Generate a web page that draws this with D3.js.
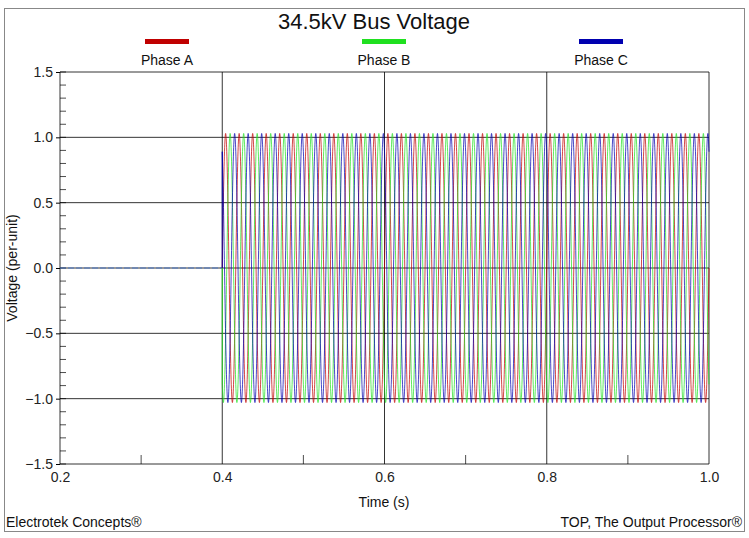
<!DOCTYPE html>
<html><head><meta charset="utf-8">
<script src="https://cdn.jsdelivr.net/npm/d3@7"></script>
<style>body{margin:0;background:#fff;font-family:Arial,"Liberation Sans",sans-serif}</style>
</head><body><div id="chart"></div>
<script>
// data
const phaseNames = ["Phase A", "Phase B", "Phase C"];
const phaseColors = ["#c00000", "#20e020", "#0000b0"];
// one cycle of the waveform, 30 degree steps (per-unit)
const cycleSamples = [0, 0.52, 0.89, 1.03, 0.89, 0.52, 0, -0.52, -0.89, -1.03, -0.89, -0.52];
const phaseOffsetSteps = [0, 8, 4];  // B lags A by 120 deg, C by 240 deg
const startTime = 0.4, endTime = 1.0, cyclePeriod = 1 / 60;
const xTicks = [0.2, 0.4, 0.6, 0.8, 1.0];
const yTicks = [-1.5, -1.0, -0.5, 0.0, 0.5, 1.0, 1.5];

const W = 749, H = 538;
const margin = { top: 72, right: 40, bottom: 74, left: 60 };
const pw = W - margin.left - margin.right, ph = H - margin.top - margin.bottom;

const svg = d3.select("#chart").append("svg").attr("width", W).attr("height", H);
svg.append("rect").attr("x", 4.5).attr("y", 8.5).attr("width", 740).attr("height", 523)
  .attr("fill", "none").attr("stroke", "#888");

const g = svg.append("g").attr("transform", `translate(${margin.left},${margin.top})`);
const x = d3.scaleLinear().domain([0.2, 1.0]).range([0, pw]);
const y = d3.scaleLinear().domain([-1.5, 1.5]).range([ph, 0]);

// grid
g.selectAll(".vg").data(xTicks).enter().append("line")
  .attr("x1", d => x(d)).attr("x2", d => x(d)).attr("y1", 0).attr("y2", ph)
  .attr("stroke", "#000").attr("stroke-width", 0.8);
g.selectAll(".hg").data(yTicks).enter().append("line")
  .attr("x1", 0).attr("x2", pw).attr("y1", d => y(d)).attr("y2", d => y(d))
  .attr("stroke", "#000").attr("stroke-width", 0.8);

// minor ticks
const yMinor = d3.range(-15, 16).map(i => i / 10);
g.selectAll(".ym").data(yMinor).enter().append("line")
  .attr("x1", 0).attr("x2", 6).attr("y1", d => y(d)).attr("y2", d => y(d))
  .attr("stroke", "#000").attr("stroke-width", 0.7);
const xMinor = [0.3, 0.5, 0.7, 0.9];
g.selectAll(".xm").data(xMinor).enter().append("line")
  .attr("x1", d => x(d)).attr("x2", d => x(d)).attr("y1", ph).attr("y2", ph - 9)
  .attr("stroke", "#000").attr("stroke-width", 0.7);

// axes labels
const yAxis = d3.axisLeft(y).tickValues(yTicks).tickFormat(d3.format(".1f")).tickSize(4);
const ya = g.append("g").call(yAxis);
ya.select(".domain").remove();
ya.selectAll("text").attr("font-size", 14).attr("fill", "#222");
const xAxis = d3.axisBottom(x).tickValues(xTicks).tickFormat(d3.format(".1f")).tickSize(0).tickPadding(8);
const xa = g.append("g").attr("transform", `translate(0,${ph})`).call(xAxis);
xa.select(".domain").remove();
xa.selectAll("text").attr("font-size", 14).attr("fill", "#222");

// flat pre-energisation segment
g.append("line").attr("x1", x(0.2)).attr("x2", x(startTime)).attr("y1", y(0)).attr("y2", y(0))
  .attr("stroke", "#4a78c8").attr("stroke-width", 1.2).attr("stroke-dasharray", "6,2");

// waveforms
const stepDt = cyclePeriod / cycleSamples.length;
const nSteps = Math.round((endTime - startTime) / stepDt);
const line = d3.line().x(d => x(d[0])).y(d => y(d[1])).curve(d3.curveMonotoneX);
phaseNames.forEach((name, p) => {
  const pts = [];
  for (let i = 0; i <= nSteps; i++) {
    pts.push([startTime + i * stepDt, cycleSamples[(i + phaseOffsetSteps[p]) % cycleSamples.length]]);
  }
  g.append("line").attr("x1", x(startTime)).attr("x2", x(startTime))
    .attr("y1", y(0)).attr("y2", y(pts[0][1])).attr("stroke", phaseColors[p]).attr("stroke-width", 0.9);
  g.append("path").datum(pts).attr("d", line).attr("fill", "none")
    .attr("stroke", phaseColors[p]).attr("stroke-width", 0.9).attr("opacity", 0.8);
});

// title + legend
svg.append("text").attr("x", 374).attr("y", 29).attr("text-anchor", "middle")
  .attr("font-size", 22).attr("fill", "#111").text("34.5kV Bus Voltage");
const legX = [167, 384, 601];
phaseNames.forEach((name, p) => {
  svg.append("rect").attr("x", legX[p] - 22).attr("y", 39).attr("width", 44).attr("height", 5)
    .attr("fill", phaseColors[p]);
  svg.append("text").attr("x", legX[p]).attr("y", 65).attr("text-anchor", "middle")
    .attr("font-size", 14).attr("fill", "#111").text(name);
});

svg.append("text").attr("x", 384).attr("y", 507).attr("text-anchor", "middle")
  .attr("font-size", 14).attr("fill", "#111").text("Time (s)");
svg.append("text").attr("transform", "translate(17,268) rotate(-90)").attr("text-anchor", "middle")
  .attr("font-size", 14).attr("fill", "#111").text("Voltage (per-unit)");
svg.append("text").attr("x", 6).attr("y", 527).attr("font-size", 14).attr("fill", "#111").text("Electrotek Concepts®");
svg.append("text").attr("x", 742).attr("y", 527).attr("text-anchor", "end")
  .attr("font-size", 14).attr("fill", "#111").text("TOP, The Output Processor®");
</script></body></html>
